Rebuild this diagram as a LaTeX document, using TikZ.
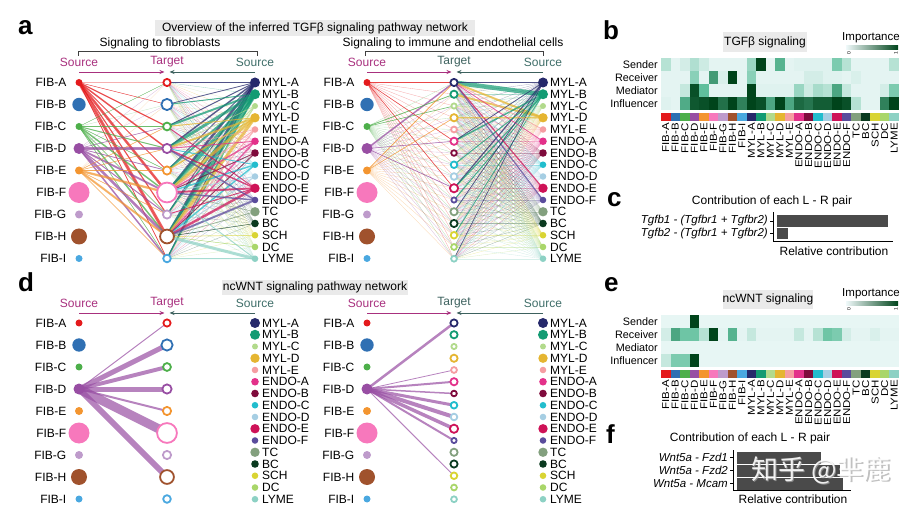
\documentclass[tikz,border=0pt]{standalone}
\usepackage{fontspec}
\setmainfont{Liberation Sans}
\newfontfamily\cjkfont{Noto Sans CJK SC}
\usetikzlibrary{arrows.meta,backgrounds,positioning}

% cell type colours, in the order of the heatmap columns
\definecolor{col1}{HTML}{E41A1C}
\definecolor{col2}{HTML}{3070B3}
\definecolor{col3}{HTML}{4DAF4A}
\definecolor{col4}{HTML}{984EA3}
\definecolor{col5}{HTML}{F39530}
\definecolor{col6}{HTML}{F778BC}
\definecolor{col7}{HTML}{BE9BCB}
\definecolor{col8}{HTML}{A0522D}
\definecolor{col9}{HTML}{4AA8E0}
\definecolor{col10}{HTML}{26296B}
\definecolor{col11}{HTML}{139B73}
\definecolor{col12}{HTML}{B2DA8C}
\definecolor{col13}{HTML}{E5B531}
\definecolor{col14}{HTML}{F59DA2}
\definecolor{col15}{HTML}{E3318A}
\definecolor{col16}{HTML}{7F0B3C}
\definecolor{col17}{HTML}{22BDCD}
\definecolor{col18}{HTML}{A6CEE3}
\definecolor{col19}{HTML}{CE1257}
\definecolor{col20}{HTML}{5A4C9C}
\definecolor{col21}{HTML}{83A07E}
\definecolor{col22}{HTML}{0B3B20}
\definecolor{col23}{HTML}{D9D433}
\definecolor{col24}{HTML}{A9D66A}
\definecolor{col25}{HTML}{8DD1C4}
\definecolor{srcmag}{HTML}{A8307E}
\definecolor{tgtteal}{HTML}{3D615E}
\definecolor{srcteal}{HTML}{3F6E69}
\definecolor{boxgray}{HTML}{EAEAEA}
\definecolor{barg}{HTML}{4A4A4A}
\definecolor{hlow}{HTML}{F0F9FA}
\definecolor{hmid}{HTML}{5FBF9C}
\definecolor{hhigh}{HTML}{00441B}

\tikzset{
  % circles of the networks
  celldot/.style = {circle, draw=none, inner sep=0pt},
  ring/.style = {circle, fill=white, line width=1.8pt, inner sep=0pt},
  % texts
  cell/.style = {font=\fontsize{12}{12}\selectfont, inner sep=0pt},
  colhead/.style = {font=\fontsize{12}{12}\selectfont, inner sep=0pt},
  panel/.style = {font=\fontsize{26}{26}\bfseries\selectfont, inner sep=0pt, anchor=base west},
  titlebox/.style = {fill=boxgray, font=\fontsize{12}{12}\selectfont, inner sep=0pt},
  rowlbl/.style = {font=\fontsize{10.8}{11}\selectfont, inner sep=0pt, anchor=east},
  collbl/.style = {font=\fontsize{10}{10}\selectfont, inner sep=0pt, rotate=90, anchor=east},
  pairlbl/.style = {font=\fontsize{11.5}{12}\itshape\selectfont, inner sep=0pt, anchor=east},
  keytick/.style = {font=\fontsize{5}{5}\selectfont, inner sep=0pt, rotate=90},
  % connectors
  link/.style = {line cap=round, opacity=0.7},
  thinlink/.style = {line width=0.35pt, opacity=0.35},
  magarrow/.style = {draw=srcmag, line width=0.8pt, -{Stealth[length=5pt,width=4pt]}},
  tealarrow/.style = {draw=tgtteal, line width=0.8pt, -{Stealth[length=5pt,width=4pt]}},
  axisline/.style = {line width=0.8pt},
}

% heads and arrows of one network: prefix, x source, x target, x source, y, colour of "Target"
\newcommand{\netheads}[6]{%
  \node[colhead, text=srcmag] (#1h1) at (#2,#5) {Source};
  \node[colhead, text=#6] (#1h2) at (#3,#5) {Target};
  \node[colhead, text=srcteal] (#1h3) at (#4,#5) {Source};
  \coordinate (#1a1) at (#2,{#5+10});
  \coordinate (#1a2) at ({#3-2.5},{#5+10});
  \coordinate (#1a3) at (#4,{#5+10});
  \coordinate (#1a4) at ({#3+2.5},{#5+10});
  \draw[magarrow] (#1a1) -- (#1a2);
  \draw[tealarrow] (#1a3) -- (#1a4);
}
% fibroblast senders: prefix, x, y of first row
\newcommand{\fibnodes}[3]{%
  \foreach \i/\r/\t in {1/3.5/FIB-A,2/6.7/FIB-B,3/3.5/FIB-C,4/5.5/FIB-D,5/4/FIB-E,6/10.5/FIB-F,7/4/FIB-G,8/8/FIB-H,9/3.5/FIB-I}{
    \node[celldot, fill=col\i, minimum size=2*\r] (#1s\i) at (#2,{#3+22*(\i-1)}) {};
    \node[cell, anchor=east] (#1l\i) at ({#2-12.5},{#3+22*(\i-1)}) {\t};
  }%
}
\newcommand{\fibtargets}[3]{%
  \foreach \i/\r in {1/3.6,2/5.6,3/3.9,4/4.6,5/4.1,6/9.9,7/4.1,8/6.9,9/3.8}{
    \node[ring, draw=col\i, minimum size=2*\r] (#1t\i) at (#2,{#3+22*(\i-1)}) {};
  }%
}
% immune and endothelial senders
\newcommand{\cellnodes}[3]{%
  \foreach \k/\r/\t in {1/5/MYL-A,2/5/MYL-B,3/3/MYL-C,4/4.7/MYL-D,5/3.3/MYL-E,6/3.8/ENDO-A,7/3.8/ENDO-B,8/3.3/ENDO-C,9/3.3/ENDO-D,10/4.7/ENDO-E,11/3.3/ENDO-F,12/4.7/TC,13/3.8/BC,14/3.3/SCH,15/3.3/DC,16/3.3/LYME}{
    \pgfmathtruncatemacro\c{\k+9}
    \node[celldot, fill=col\c, minimum size=2*\r] (#1r\k) at (#2,{#3+11.75*(\k-1)}) {};
    \node[cell, anchor=west] (#1m\k) at ({#2+7},{#3+11.75*(\k-1)}) {\t};
  }%
}
\newcommand{\celltargets}[3]{%
  \foreach \k/\r in {1/3.6,2/3.6,3/2.6,4/3.6,5/2.9,6/3.6,7/2.8,8/3.3,9/3.3,10/4.1,11/2.6,12/3.6,13/3.6,14/3.3,15/2.9,16/2.9}{
    \pgfmathtruncatemacro\c{\k+9}
    \node[ring, draw=col\c, minimum size=2*\r] (#1t\k) at (#2,{#3+11.75*(\k-1)}) {};
  }%
}
% links
\newcommand{\fiblinks}[2]{%
  \foreach \i/\j/\w in {#2} \draw[link, draw=col\i, line width=\w] (#1s\i.center) -- (#1t\j.center);%
}
\newcommand{\celllinks}[2]{%
  \foreach \k/\j/\w in {#2}{\pgfmathtruncatemacro\c{\k+9}
    \draw[link, draw=col\c, line width=\w] (#1r\k.center) -- (#1t\j.center);}%
}
\newcommand{\meshlinks}[3]{%
  \foreach \k in {1,...,16}{\pgfmathtruncatemacro\c{\k+9}
    \foreach \j in {1,...,#2} \draw[thinlink, draw=col\c] (#1r\k.center) -- (#1t\j.center);}
  \foreach \i in {#3}{\foreach \j in {1,...,#2} \draw[thinlink, draw=col\i] (#1s\i.center) -- (#1t\j.center);}%
}
% heatmaps
\newcommand{\heatrows}[2]{%
  \foreach \row/\vals in {#2}{
    \foreach \v [count=\c] in \vals {
      \ifnum\v<50 \pgfmathtruncatemacro\q{2*\v}\edef\hc{hmid!\q!hlow}\else\pgfmathtruncatemacro\q{2*\v-100}\edef\hc{hhigh!\q!hmid}\fi
      \fill[fill=\hc] ({661+9.52*(\c-1)},{#1+13*(\row-1)}) rectangle ++(9.82,13.3);
    }}%
}
\newcommand{\heatlabels}[2]{%
  \foreach \t [count=\r] in {Sender,Receiver,Mediator,Influencer}
    \node[rowlbl] (#1row\r) at (658,{#2+13*(\r-0.5)}) {\t};
  \foreach \t [count=\c] in {FIB-A,FIB-B,FIB-C,FIB-D,FIB-E,FIB-F,FIB-G,FIB-H,FIB-I,MYL-A,MYL-B,MYL-C,MYL-D,MYL-E,ENDO-A,ENDO-B,ENDO-C,ENDO-D,ENDO-E,ENDO-F,TC,BC,SCH,DC,LYME}{
    \fill[col\c] ({661+9.52*(\c-1)},{#2+55}) rectangle ++(9.82,8);
    \node[collbl] (#1col\c) at ({661+9.52*(\c-0.5)},{#2+65}) {\scalebox{1.15}[1]{\t}};
  }%
}
\newcommand{\colorkey}[2]{%
  \node[colhead, font=\fontsize{11.5}{12}\selectfont] (#1imp) at (871,#2) {Importance};
  \shade[left color=hlow, middle color=hmid, right color=hhigh] (846,{#2+8}) rectangle (898,{#2+12});
  \node[keytick] (#1k0) at (849,{#2+15.5}) {0};
  \node[keytick] (#1k1) at (896,{#2+15.5}) {1};
}

\begin{document}
\begin{tikzpicture}[x=1pt, y=-1pt]
\useasboundingbox (0,0) rectangle (918,510);

% ---------------- a ----------------
\node[panel] (la) at (18,35) {a};
\node[titlebox, minimum width=320pt, minimum height=16pt] (atitle) at (315,28.5) {Overview of the inferred TGFβ signaling pathway network};
\node[colhead] (asub1) at (160,43) {Signaling to fibroblasts};
\node[colhead] (asub2) at (453,43) {Signaling to immune and endothelial cells};
\draw[line width=0.7pt, black!75] (78,56) -- (78,51.5) -- (257,51.5) -- (257,56);
\draw[line width=0.7pt, black!75] (365,56) -- (365,51.5) -- (543,51.5) -- (543,56);

\netheads{aL}{79}{167}{255}{62}{srcmag}
\fibnodes{aL}{79}{82.5}
\fibtargets{aL}{167}{82.5}
\cellnodes{aL}{255}{82.5}

\netheads{aR}{367}{454}{543}{62}{tgtteal}
\fibnodes{aR}{367}{82.5}
\celltargets{aR}{454}{82.5}
\cellnodes{aR}{543}{82.5}

\begin{scope}[on background layer]
  \meshlinks{aL}{9}{1,3,4,5}
  \fiblinks{aL}{1/2/0.4, 1/3/1.2, 1/4/1.5, 1/5/0.8, 1/6/2.5, 1/7/1.2, 1/8/3, 1/9/0.8,
    3/1/0.4, 3/3/0.8, 3/4/1, 3/5/0.6, 3/6/1.5, 3/7/0.6, 3/8/1.5, 3/9/0.5,
    4/3/0.6, 4/4/2.5, 4/5/0.8, 4/6/2, 4/7/1, 4/8/2.5, 4/9/1.5,
    5/3/0.5, 5/4/0.6, 5/5/0.8, 5/6/2.2, 5/7/0.5, 5/8/2, 5/9/0.5}
  \celllinks{aL}{1/1/0.5, 1/2/0.8, 1/3/1, 1/4/1.5, 1/5/1, 1/6/2.5, 1/7/1, 1/8/3, 1/9/1,
    2/2/1, 2/3/2, 2/4/3, 2/5/2, 2/6/4, 2/7/1.5, 2/8/4, 2/9/1.5,
    3/4/0.6, 3/6/1, 3/8/1, 4/3/1, 4/4/2, 4/5/1.5, 4/6/3, 4/8/3,
    5/4/0.6, 5/6/1, 5/8/1, 6/4/1, 6/6/1.5, 6/8/1.5, 7/6/1, 7/8/1,
    8/4/1, 8/6/1.5, 8/8/1.5, 9/6/1, 9/8/1,
    10/3/1, 10/4/1.5, 10/6/2, 10/7/1, 10/8/2.5, 11/4/1.5, 11/6/1.5, 11/8/2,
    12/6/0.5, 12/8/0.8, 13/8/0.5, 14/8/0.5, 15/8/0.5, 16/6/1, 16/8/3, 16/9/1}
  \meshlinks{aR}{16}{1,3,4,5}
  \fiblinks{aR}{1/1/1.2, 4/1/1.5, 3/2/0.8, 5/1/0.8, 1/6/0.6, 4/6/0.6, 1/10/0.6, 4/10/0.7, 3/3/0.6, 5/4/0.6}
  \celllinks{aR}{2/1/4.5, 1/1/1.5, 4/1/2, 4/2/2, 1/10/1.2, 2/6/1.5, 2/10/1.2, 2/11/1, 10/1/1.2,
    11/1/1.2, 1/12/0.8, 2/14/0.8, 4/4/1.2, 5/1/0.8, 6/1/0.8, 1/6/0.8, 2/8/1, 1/16/0.6}
\end{scope}

% ---------------- d ----------------
\node[panel] (ld) at (18,292) {d};
\node[titlebox, minimum width=186pt, minimum height=15pt] (dtitle) at (315,287.5) {ncWNT signaling pathway network};

\netheads{dL}{79}{167}{255}{303}{srcmag}
\fibnodes{dL}{79}{323}
\fibtargets{dL}{167}{323}
\cellnodes{dL}{255}{323}

\netheads{dR}{367}{454}{543}{303}{tgtteal}
\fibnodes{dR}{367}{323}
\celltargets{dR}{454}{323}
\cellnodes{dR}{543}{323}

\begin{scope}[on background layer, every path/.append style={opacity=0.6}]
  \fiblinks{dL}{4/1/1, 4/2/5, 4/3/4, 4/4/5, 4/5/2, 4/6/9, 4/8/6}
  \fiblinks{dR}{4/1/2.5, 4/5/0.8, 4/6/2, 4/7/1.5, 4/8/3, 4/9/4, 4/10/3.5, 4/11/2, 4/14/1}
\end{scope}

% ---------------- b ----------------
\node[panel] (lb) at (603,40) {b};
\node[titlebox, minimum width=84pt, minimum height=20pt] (btitle) at (765,42) {TGFβ signaling};
\colorkey{b}{38}
\heatrows{58}{1/{20,4,10,22,12,4,4,4,4,30,100,4,55,4,6,6,6,6,40,20,4,4,4,4,20},
  2/{4,4,4,35,4,65,8,100,4,35,4,4,4,4,4,10,10,6,6,4,8,4,4,4,4},
  3/{4,4,15,95,50,4,4,4,4,100,6,6,6,6,30,12,25,20,60,15,4,4,4,10,40},
  4/{6,4,58,92,95,100,82,100,75,100,95,60,100,60,85,80,90,90,100,95,20,4,4,75,100}}
\heatlabels{b}{58}

% ---------------- c ----------------
\node[panel] (lc) at (607,207) {c};
\node[colhead] (ctitle) at (772,201) {Contribution of each L - R pair};
\node[pairlbl] (cp1) at (768,221) {Tgfb1 - (Tgfbr1 + Tgfbr2)};
\node[pairlbl] (cp2) at (768,233.5) {Tgfb2 - (Tgfbr1 + Tgfbr2)};
\fill[barg] (777,215.5) rectangle (888,227);
\fill[barg] (777,228.5) rectangle (788,239.5);
\draw[axisline] (773,212) -- (773,241) -- (893,241);
\draw[axisline] (770,221) -- (773,221);
\draw[axisline] (770,233.5) -- (773,233.5);
\node[colhead] (cxlab) at (834,251) {Relative contribution};

% ---------------- e ----------------
\node[panel] (le) at (604,292) {e};
\node[titlebox, minimum width=90pt, minimum height=19pt] (etitle) at (768,299.5) {ncWNT signaling};
\colorkey{e}{294}
\heatrows{315}{1/{3,3,3,100,3,3,3,3,3,3,3,3,3,3,3,3,3,3,3,3,3,3,3,3,3},
  2/{10,60,45,45,20,100,4,55,4,15,4,4,4,4,15,4,20,45,40,10,4,4,8,4,4},
  3/{3,3,3,3,3,3,3,3,3,3,3,3,3,3,3,3,3,3,3,3,3,3,3,3,3},
  4/{15,40,40,100,3,3,3,3,3,3,3,3,3,3,3,3,3,3,3,3,3,3,3,3,3}}
\heatlabels{e}{315}

% ---------------- f ----------------
\node[panel] (lf) at (606,443) {f};
\node[colhead] (ftitle) at (750,438) {Contribution of each L - R pair};
\node[pairlbl] (fp1) at (728,457.5) {Wnt5a - Fzd1};
\node[pairlbl] (fp2) at (728,470.5) {Wnt5a - Fzd2};
\node[pairlbl] (fp3) at (728,483.5) {Wnt5a - Mcam};
\fill[barg] (737,452) rectangle (821,463.5);
\fill[barg] (737,465) rectangle (840,476.5);
\fill[barg] (737,478) rectangle (843,489.5);
\draw[axisline] (733,450) -- (733,490.5) -- (851,490.5);
\foreach \y in {457.5,470.5,483.5} \draw[axisline] (730,\y) -- (733,\y);
\node[colhead] (fxlab) at (793,499) {Relative contribution};

% watermark
\node[font=\cjkfont\fontsize{27}{27}\selectfont, text=black!35, opacity=0.7] (wmshade) at (822.2,471.2) {知乎 @芈鹿};
\node[font=\cjkfont\fontsize{27}{27}\selectfont, text=white, opacity=0.9] (wm) at (821,470) {知乎 @芈鹿};
\end{tikzpicture}
\end{document}
